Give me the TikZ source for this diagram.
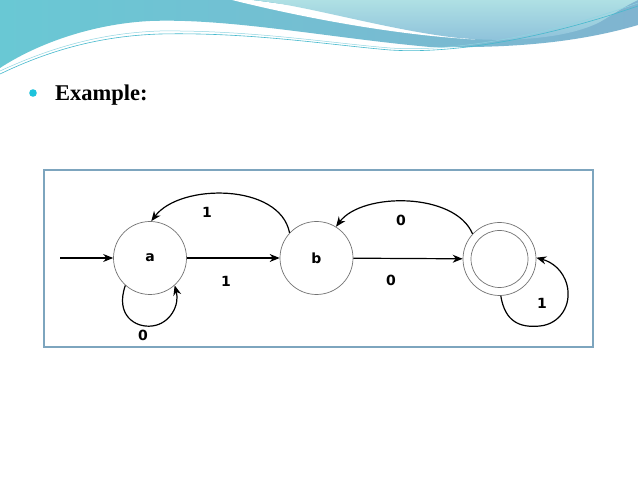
\documentclass[tikz,border=0pt]{standalone}
\usepackage{fontspec}
\setmainfont{Liberation Serif}
\newfontfamily\diagfont{DejaVu Sans}
\usetikzlibrary{arrows.meta}
\definecolor{bandL}{RGB}{105,200,212}
\definecolor{bandR}{RGB}{128,180,208}
\definecolor{lightA}{RGB}{175,224,228}
\definecolor{lightB}{RGB}{140,192,218}
\definecolor{frameC}{RGB}{125,165,190}
\definecolor{bulletC}{RGB}{30,195,220}
\definecolor{lineC}{RGB}{70,185,205}
\tikzset{
  state/.style={draw=black!55, line width=0.7pt, circle, minimum size=73pt, inner sep=0pt, font=\diagfont\bfseries\fontsize{14}{16}\selectfont},
  edge/.style={line width=1.2pt, -{Stealth[length=10pt,width=8pt]}},
  lbl/.style={font=\diagfont\bfseries\fontsize{14}{16}\selectfont, inner sep=0pt},
}
\begin{document}
\begin{tikzpicture}[x=1pt,y=-1pt]
\useasboundingbox (0,0) rectangle (638,478);
\fill[white] (0,0) rectangle (638,478);
% header
\shade[left color=bandL, right color=bandR] (0,0) -- (638,0) -- (638,25)
  .. controls (570,45) and (500,48) .. (430,47)
  .. controls (330,38) and (230,18) .. (150,21)
  .. controls (90,24) and (35,45) .. (0,68) -- cycle;
\fill[white] (232,0) .. controls (280,12) and (380,34) .. (475,39.5) -- (475,30) -- (252,0) -- cycle;
\shade[top color=lightA, bottom color=lightB] (252,0) .. controls (300,4) and (380,28) .. (450,37)
  .. controls (500,43) and (565,40) .. (600,22) .. controls (615,13) and (627,5) .. (638,0) -- cycle;
\draw[lineC, line width=0.6pt] (0,74) .. controls (50,50) and (100,36) .. (160,34)
  .. controls (250,32) and (330,45) .. (390,50) .. controls (450,54) and (540,40) .. (638,6);
\draw[lineC!60, line width=0.5pt] (0,71) .. controls (50,48) and (100,33) .. (160,31)
  .. controls (250,30) and (330,43) .. (390,48) .. controls (450,52) and (540,38) .. (638,3);
% title
\fill[bulletC] (33,93) circle (3.8);
\node[anchor=base west, font=\bfseries\fontsize{22.5}{26}\selectfont, inner sep=0pt] (title) at (55,101) {Example:};
% frame
\draw[frameC, line width=1.2pt] (44,170) rectangle (593,347);
% states
\node[state] (a) at (150,258) {a};
\node[state] (b) at (316.5,258) {b};
\node[state] (f) at (499.5,259) {};
\node[draw=black!55, line width=0.7pt, circle, minimum size=57pt, inner sep=0pt] (fi) at (f) {};
\coordinate (s) at (60,258);
% edges
\draw[edge] (s) -- (a);
\draw[edge] (a) -- (b);
\draw[edge] (b) -- (f);
\draw[edge] (b.137) .. controls (280,183) and (180,183) .. (a.88);
\draw[edge] (f.137) .. controls (455,192) and (362,192) .. (b.58);
\draw[edge] (a.228) .. controls (115,315) and (135,328) .. (152,326)
  .. controls (170,324) and (180,305) .. (a.312);
\draw[edge] (f.272) .. controls (505,322) and (520,328) .. (540,326)
  .. controls (560,324) and (572,305) .. (567,285)
  .. controls (563,270) and (552,262) .. (f.2);
% labels
\node[lbl] (l1) at (207,212) {1};
\node[lbl] (l2) at (226,281) {1};
\node[lbl] (l3) at (401,220) {0};
\node[lbl] (l4) at (391,280) {0};
\node[lbl] (l5) at (143,335) {0};
\node[lbl] (l6) at (542,303) {1};
\end{tikzpicture}
\end{document}
